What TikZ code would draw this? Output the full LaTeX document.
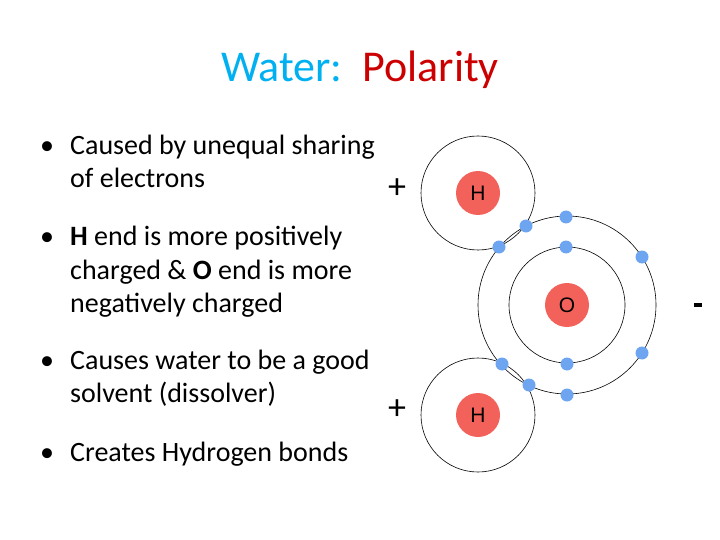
\documentclass[tikz,border=0pt]{standalone}
\usepackage{fontspec}
\setmainfont{Carlito}
\newfontfamily\arialish{Liberation Sans}
\begin{document}
\begin{tikzpicture}[x=1pt,y=-1pt,
  orbit/.style={draw=black,line width=0.6pt},
  nuc/.style={circle,fill=nucred,minimum size=44pt,inner sep=0pt,font=\fontsize{21}{21}\arialish},
  elec/.style={circle,fill=elblue,minimum size=13pt,inner sep=0pt},
  body/.style={anchor=base west,inner sep=0pt,font=\fontsize{28}{28}\selectfont},
  sign/.style={font=\fontsize{36}{36}\selectfont,inner sep=0pt}]
\definecolor{nucred}{RGB}{242,98,90}
\definecolor{elblue}{RGB}{110,165,240}
\definecolor{tcyan}{RGB}{0,176,240}
\definecolor{tred}{RGB}{204,0,0}
\useasboundingbox (0,0) rectangle (720,540);
\node[anchor=base,inner sep=0pt,font=\fontsize{44}{44}\selectfont] (title) at (360,82)
  {\textcolor{tcyan}{Water:}\ \ \textcolor{tred}{Polarity}};
% text
\node[body] (b1) at (40,155) {•};
\node[body] (t1a) at (70,155) {Caused by unequal sharing};
\node[body] (t1b) at (70,188) {of electrons};
\node[body] (b2) at (40,245) {•};
\node[body] (t2a) at (70,245) {\textbf{H} end is more positively};
\node[body] (t2b) at (70,279) {charged \& \textbf{O} end is more};
\node[body] (t2c) at (70,312) {negatively charged};
\node[body] (b3) at (40,369) {•};
\node[body] (t3a) at (70,369) {Causes water to be a good};
\node[body] (t3b) at (70,402) {solvent (dissolver)};
\node[body] (b4) at (40,461) {•};
\node[body] (t4) at (70,461) {Creates Hydrogen bonds};
% atoms
\coordinate (Hc1) at (478,193);
\coordinate (Hc2) at (478,415);
\coordinate (Oc) at (567,305);
\draw[orbit] (Hc1) circle (57);
\draw[orbit] (Hc2) circle (57);
\draw[orbit] (Oc) circle (58);
\draw[orbit] (Oc) circle (89);
\node[nuc] (H1) at (Hc1) {H};
\node[nuc] (H2) at (Hc2) {H};
\node[nuc] (O) at (Oc) {O};
\foreach \p [count=\i] in {(566,217),(566,247),(642,257),(499,247),(526,226),(642,353),(567,364),(567,395),(529,385),(502,364)}
  \node[elec] (e\i) at \p {};
\node[sign] (p1) at (397,189) {+};
\node[sign] (p2) at (397,410) {+};
\node[fill=black,minimum width=8pt,minimum height=3.5pt,inner sep=0pt] (m) at (698,305) {};
\end{tikzpicture}
\end{document}
